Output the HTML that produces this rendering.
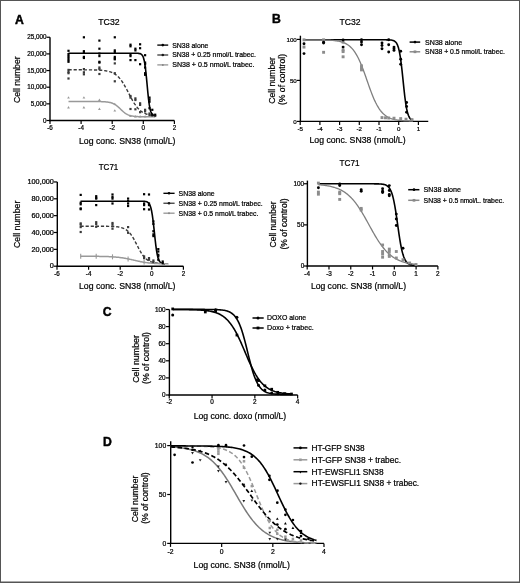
<!DOCTYPE html>
<html><head><meta charset="utf-8"><style>
html,body{margin:0;padding:0;background:#fff;}
body{width:520px;height:583px;overflow:hidden;}
svg{display:block;}
</style></head><body>
<svg width="520" height="583" viewBox="0 0 520 583" font-family='"Liberation Sans", Arial, Helvetica, sans-serif'>
<rect x="0" y="0" width="520" height="583" fill="#fff"/>
<line x1="49.30" y1="120.50" x2="174.40" y2="120.50" stroke="#000" stroke-width="1.4"/>
<line x1="50.00" y1="121.20" x2="50.00" y2="37.25" stroke="#000" stroke-width="1.4"/>
<line x1="50.00" y1="120.50" x2="50.00" y2="124.00" stroke="#000" stroke-width="1.2"/>
<text x="50.00" y="129.60" font-size="6.3" text-anchor="middle" fill="#000" stroke="#000" stroke-width="0.22">-6</text>
<line x1="81.10" y1="120.50" x2="81.10" y2="124.00" stroke="#000" stroke-width="1.2"/>
<text x="81.10" y="129.60" font-size="6.3" text-anchor="middle" fill="#000" stroke="#000" stroke-width="0.22">-4</text>
<line x1="112.20" y1="120.50" x2="112.20" y2="124.00" stroke="#000" stroke-width="1.2"/>
<text x="112.20" y="129.60" font-size="6.3" text-anchor="middle" fill="#000" stroke="#000" stroke-width="0.22">-2</text>
<line x1="143.30" y1="120.50" x2="143.30" y2="124.00" stroke="#000" stroke-width="1.2"/>
<text x="143.30" y="129.60" font-size="6.3" text-anchor="middle" fill="#000" stroke="#000" stroke-width="0.22">0</text>
<line x1="174.40" y1="120.50" x2="174.40" y2="124.00" stroke="#000" stroke-width="1.2"/>
<text x="174.40" y="129.60" font-size="6.3" text-anchor="middle" fill="#000" stroke="#000" stroke-width="0.22">2</text>
<line x1="50.00" y1="120.50" x2="46.50" y2="120.50" stroke="#000" stroke-width="1.2"/>
<text x="46.40" y="122.70" font-size="6.3" text-anchor="end" fill="#000" stroke="#000" stroke-width="0.22">0</text>
<line x1="50.00" y1="103.85" x2="46.50" y2="103.85" stroke="#000" stroke-width="1.2"/>
<text x="46.40" y="106.05" font-size="6.3" text-anchor="end" fill="#000" stroke="#000" stroke-width="0.22">5,000</text>
<line x1="50.00" y1="87.20" x2="46.50" y2="87.20" stroke="#000" stroke-width="1.2"/>
<text x="46.40" y="89.40" font-size="6.3" text-anchor="end" fill="#000" stroke="#000" stroke-width="0.22">10,000</text>
<line x1="50.00" y1="70.55" x2="46.50" y2="70.55" stroke="#000" stroke-width="1.2"/>
<text x="46.40" y="72.75" font-size="6.3" text-anchor="end" fill="#000" stroke="#000" stroke-width="0.22">15,000</text>
<line x1="50.00" y1="53.90" x2="46.50" y2="53.90" stroke="#000" stroke-width="1.2"/>
<text x="46.40" y="56.10" font-size="6.3" text-anchor="end" fill="#000" stroke="#000" stroke-width="0.22">20,000</text>
<line x1="50.00" y1="37.25" x2="46.50" y2="37.25" stroke="#000" stroke-width="1.2"/>
<text x="46.40" y="39.45" font-size="6.3" text-anchor="end" fill="#000" stroke="#000" stroke-width="0.22">25,000</text>
<text x="15.00" y="23.50" font-size="12.2" font-weight="bold" fill="#000" stroke="#000" stroke-width="0.45">A</text>
<text x="98.30" y="24.60" font-size="9" textLength="21.30" lengthAdjust="spacingAndGlyphs" fill="#000" stroke="#000" stroke-width="0.22">TC32</text>
<text x="20.10" y="79.70" font-size="8.6" text-anchor="middle" textLength="46.60" lengthAdjust="spacingAndGlyphs" transform="rotate(-90 20.10 79.70)" fill="#000" stroke="#000" stroke-width="0.22">Cell number</text>
<text x="79.00" y="144.30" font-size="8.7" textLength="96.40" lengthAdjust="spacingAndGlyphs" fill="#000" stroke="#000" stroke-width="0.22">Log conc. SN38 (nmol/L)</text>
<polyline points="68.50,53.20 69.22,53.20 69.94,53.20 70.66,53.20 71.38,53.20 72.10,53.20 72.83,53.20 73.55,53.20 74.27,53.20 74.99,53.20 75.71,53.20 76.43,53.20 77.15,53.20 77.87,53.20 78.59,53.20 79.31,53.20 80.03,53.20 80.75,53.20 81.47,53.20 82.20,53.20 82.92,53.20 83.64,53.20 84.36,53.20 85.08,53.20 85.80,53.20 86.52,53.20 87.24,53.20 87.96,53.20 88.68,53.20 89.40,53.20 90.12,53.20 90.85,53.20 91.57,53.20 92.29,53.20 93.01,53.20 93.73,53.20 94.45,53.20 95.17,53.20 95.89,53.20 96.61,53.20 97.33,53.20 98.05,53.20 98.78,53.20 99.50,53.20 100.22,53.20 100.94,53.20 101.66,53.20 102.38,53.20 103.10,53.20 103.82,53.20 104.54,53.20 105.26,53.20 105.98,53.20 106.70,53.20 107.42,53.20 108.15,53.20 108.87,53.20 109.59,53.20 110.31,53.20 111.03,53.20 111.75,53.20 112.47,53.20 113.19,53.20 113.91,53.20 114.63,53.20 115.35,53.20 116.08,53.20 116.80,53.20 117.52,53.20 118.24,53.20 118.96,53.20 119.68,53.20 120.40,53.20 121.12,53.20 121.84,53.20 122.56,53.20 123.28,53.20 124.00,53.20 124.72,53.20 125.45,53.20 126.17,53.20 126.89,53.20 127.61,53.20 128.33,53.20 129.05,53.20 129.77,53.20 130.49,53.20 131.21,53.20 131.93,53.20 132.65,53.20 133.38,53.20 134.10,53.21 134.82,53.21 135.54,53.22 136.26,53.23 136.98,53.25 137.70,53.29 138.42,53.34 139.14,53.44 139.86,53.60 140.58,53.85 141.30,54.27 142.03,54.96 142.75,56.05 143.47,57.79 144.19,60.45 144.91,64.35 145.63,69.74 146.35,76.55 147.07,84.28 147.79,92.05 148.51,98.96 149.23,104.47 149.95,108.49 150.68,111.24 151.40,113.03 152.12,114.17 152.84,114.88 153.56,115.32 154.28,115.59 155.00,115.75" fill="none" stroke="#000" stroke-width="1.6" stroke-linejoin="round"/>
<polyline points="68.50,69.80 69.22,69.80 69.94,69.80 70.66,69.80 71.38,69.80 72.10,69.80 72.83,69.80 73.55,69.80 74.27,69.81 74.99,69.81 75.71,69.81 76.43,69.81 77.15,69.81 77.87,69.81 78.59,69.81 79.31,69.81 80.03,69.81 80.75,69.82 81.47,69.82 82.20,69.82 82.92,69.82 83.64,69.83 84.36,69.83 85.08,69.83 85.80,69.84 86.52,69.84 87.24,69.85 87.96,69.85 88.68,69.86 89.40,69.87 90.12,69.88 90.85,69.89 91.57,69.90 92.29,69.91 93.01,69.92 93.73,69.94 94.45,69.96 95.17,69.98 95.89,70.00 96.61,70.02 97.33,70.05 98.05,70.08 98.78,70.12 99.50,70.16 100.22,70.21 100.94,70.26 101.66,70.32 102.38,70.38 103.10,70.45 103.82,70.54 104.54,70.63 105.26,70.73 105.98,70.85 106.70,70.98 107.42,71.12 108.15,71.29 108.87,71.47 109.59,71.68 110.31,71.91 111.03,72.16 111.75,72.44 112.47,72.76 113.19,73.11 113.91,73.50 114.63,73.93 115.35,74.41 116.08,74.93 116.80,75.50 117.52,76.13 118.24,76.82 118.96,77.57 119.68,78.37 120.40,79.25 121.12,80.18 121.84,81.18 122.56,82.25 123.28,83.37 124.00,84.56 124.72,85.79 125.45,87.08 126.17,88.40 126.89,89.75 127.61,91.13 128.33,92.53 129.05,93.92 129.77,95.31 130.49,96.69 131.21,98.03 131.93,99.35 132.65,100.62 133.38,101.84 134.10,103.01 134.82,104.12 135.54,105.17 136.26,106.16 136.98,107.08 137.70,107.93 138.42,108.73 139.14,109.46 139.86,110.13 140.58,110.74 141.30,111.30 142.03,111.82 142.75,112.28 143.47,112.70 144.19,113.08 144.91,113.42 145.63,113.73 146.35,114.01 147.07,114.25 147.79,114.48 148.51,114.68 149.23,114.85 149.95,115.01 150.68,115.16 151.40,115.28 152.12,115.39 152.84,115.50 153.56,115.59 154.28,115.67 155.00,115.74" fill="none" stroke="#3a3a3a" stroke-width="1.4" stroke-linejoin="round" stroke-dasharray="3.2,1.9"/>
<polyline points="68.50,101.50 69.22,101.50 69.94,101.50 70.66,101.50 71.38,101.50 72.10,101.50 72.83,101.50 73.55,101.50 74.27,101.50 74.99,101.50 75.71,101.50 76.43,101.50 77.15,101.50 77.87,101.50 78.59,101.50 79.31,101.50 80.03,101.50 80.75,101.50 81.47,101.50 82.20,101.50 82.92,101.50 83.64,101.50 84.36,101.50 85.08,101.50 85.80,101.50 86.52,101.50 87.24,101.50 87.96,101.50 88.68,101.50 89.40,101.51 90.12,101.51 90.85,101.51 91.57,101.51 92.29,101.51 93.01,101.51 93.73,101.52 94.45,101.52 95.17,101.53 95.89,101.53 96.61,101.54 97.33,101.54 98.05,101.55 98.78,101.56 99.50,101.58 100.22,101.59 100.94,101.61 101.66,101.63 102.38,101.66 103.10,101.69 103.82,101.72 104.54,101.77 105.26,101.82 105.98,101.88 106.70,101.95 107.42,102.04 108.15,102.14 108.87,102.27 109.59,102.41 110.31,102.58 111.03,102.77 111.75,103.00 112.47,103.27 113.19,103.57 113.91,103.92 114.63,104.31 115.35,104.75 116.08,105.24 116.80,105.78 117.52,106.36 118.24,106.98 118.96,107.64 119.68,108.31 120.40,109.01 121.12,109.70 121.84,110.38 122.56,111.05 123.28,111.68 124.00,112.28 124.72,112.84 125.45,113.35 126.17,113.81 126.89,114.22 127.61,114.59 128.33,114.91 129.05,115.19 129.77,115.43 130.49,115.64 131.21,115.82 131.93,115.98 132.65,116.11 133.38,116.22 134.10,116.31 134.82,116.39 135.54,116.46 136.26,116.51 136.98,116.56 137.70,116.60 138.42,116.63 139.14,116.66 139.86,116.68 140.58,116.70 141.30,116.72 142.03,116.73 142.75,116.74 143.47,116.75 144.19,116.76 144.91,116.77 145.63,116.77 146.35,116.78 147.07,116.78 147.79,116.78 148.51,116.79 149.23,116.79 149.95,116.79 150.68,116.79 151.40,116.79 152.12,116.79 152.84,116.80 153.56,116.80 154.28,116.80 155.00,116.80" fill="none" stroke="#999" stroke-width="1.5" stroke-linejoin="round"/>
<polygon points="67.10,98.58 69.90,98.58 68.50,96.20" fill="#9a9a9a"/>
<polygon points="67.10,108.38 69.90,108.38 68.50,106.00" fill="#9a9a9a"/>
<polygon points="82.50,98.58 85.30,98.58 83.90,96.20" fill="#9a9a9a"/>
<polygon points="82.50,108.38 85.30,108.38 83.90,106.00" fill="#9a9a9a"/>
<polygon points="98.00,100.98 100.80,100.98 99.40,98.60" fill="#9a9a9a"/>
<polygon points="98.00,109.98 100.80,109.98 99.40,107.60" fill="#9a9a9a"/>
<polygon points="113.40,105.08 116.20,105.08 114.80,102.70" fill="#9a9a9a"/>
<polygon points="113.40,111.58 116.20,111.58 114.80,109.20" fill="#9a9a9a"/>
<polygon points="129.10,116.98 131.90,116.98 130.50,114.60" fill="#9a9a9a"/>
<polygon points="134.00,117.48 136.80,117.48 135.40,115.10" fill="#9a9a9a"/>
<polygon points="138.70,117.48 141.50,117.48 140.10,115.10" fill="#9a9a9a"/>
<polygon points="143.70,117.48 146.50,117.48 145.10,115.10" fill="#9a9a9a"/>
<rect x="67.40" y="68.80" width="2.20" height="2.20" fill="#3a3a3a"/>
<rect x="67.40" y="70.90" width="2.20" height="2.20" fill="#3a3a3a"/>
<rect x="67.40" y="72.10" width="2.20" height="2.20" fill="#3a3a3a"/>
<rect x="67.40" y="77.40" width="2.20" height="2.20" fill="#3a3a3a"/>
<rect x="82.80" y="68.00" width="2.20" height="2.20" fill="#3a3a3a"/>
<rect x="82.80" y="71.20" width="2.20" height="2.20" fill="#3a3a3a"/>
<rect x="82.80" y="73.20" width="2.20" height="2.20" fill="#3a3a3a"/>
<rect x="98.30" y="66.40" width="2.20" height="2.20" fill="#3a3a3a"/>
<rect x="98.30" y="68.00" width="2.20" height="2.20" fill="#3a3a3a"/>
<rect x="98.30" y="72.90" width="2.20" height="2.20" fill="#3a3a3a"/>
<rect x="113.70" y="62.30" width="2.20" height="2.20" fill="#3a3a3a"/>
<rect x="113.70" y="72.10" width="2.20" height="2.20" fill="#3a3a3a"/>
<rect x="113.70" y="80.20" width="2.20" height="2.20" fill="#3a3a3a"/>
<rect x="129.40" y="94.90" width="2.20" height="2.20" fill="#3a3a3a"/>
<rect x="129.40" y="96.50" width="2.20" height="2.20" fill="#3a3a3a"/>
<rect x="129.40" y="107.90" width="2.20" height="2.20" fill="#3a3a3a"/>
<rect x="134.30" y="97.30" width="2.20" height="2.20" fill="#3a3a3a"/>
<rect x="134.30" y="98.90" width="2.20" height="2.20" fill="#3a3a3a"/>
<rect x="134.30" y="108.20" width="2.20" height="2.20" fill="#3a3a3a"/>
<rect x="139.00" y="102.20" width="2.20" height="2.20" fill="#3a3a3a"/>
<rect x="139.00" y="103.80" width="2.20" height="2.20" fill="#3a3a3a"/>
<rect x="139.00" y="111.10" width="2.20" height="2.20" fill="#3a3a3a"/>
<rect x="144.00" y="108.70" width="2.20" height="2.20" fill="#3a3a3a"/>
<rect x="144.00" y="110.30" width="2.20" height="2.20" fill="#3a3a3a"/>
<rect x="148.40" y="112.40" width="2.20" height="2.20" fill="#3a3a3a"/>
<rect x="148.40" y="113.90" width="2.20" height="2.20" fill="#3a3a3a"/>
<rect x="151.20" y="114.40" width="2.20" height="2.20" fill="#3a3a3a"/>
<rect x="154.10" y="114.90" width="2.20" height="2.20" fill="#3a3a3a"/>
<rect x="67.40" y="49.70" width="2.20" height="2.20" fill="#000"/>
<rect x="67.40" y="53.00" width="2.20" height="2.20" fill="#000"/>
<rect x="67.40" y="55.00" width="2.20" height="2.20" fill="#000"/>
<rect x="67.40" y="56.90" width="2.20" height="2.20" fill="#000"/>
<rect x="67.40" y="59.00" width="2.20" height="2.20" fill="#000"/>
<rect x="67.40" y="60.70" width="2.20" height="2.20" fill="#000"/>
<rect x="82.80" y="36.20" width="2.20" height="2.20" fill="#000"/>
<rect x="82.80" y="50.10" width="2.20" height="2.20" fill="#000"/>
<rect x="82.80" y="51.70" width="2.20" height="2.20" fill="#000"/>
<rect x="82.80" y="55.80" width="2.20" height="2.20" fill="#000"/>
<rect x="82.80" y="56.90" width="2.20" height="2.20" fill="#000"/>
<rect x="98.30" y="39.50" width="2.20" height="2.20" fill="#000"/>
<rect x="98.30" y="47.60" width="2.20" height="2.20" fill="#000"/>
<rect x="98.30" y="52.50" width="2.20" height="2.20" fill="#000"/>
<rect x="98.30" y="55.00" width="2.20" height="2.20" fill="#000"/>
<rect x="98.30" y="60.70" width="2.20" height="2.20" fill="#000"/>
<rect x="98.30" y="61.50" width="2.20" height="2.20" fill="#000"/>
<rect x="113.70" y="36.20" width="2.20" height="2.20" fill="#000"/>
<rect x="113.70" y="49.30" width="2.20" height="2.20" fill="#000"/>
<rect x="113.70" y="50.90" width="2.20" height="2.20" fill="#000"/>
<rect x="113.70" y="55.80" width="2.20" height="2.20" fill="#000"/>
<rect x="113.70" y="57.40" width="2.20" height="2.20" fill="#000"/>
<rect x="113.70" y="58.20" width="2.20" height="2.20" fill="#000"/>
<rect x="129.40" y="43.60" width="2.20" height="2.20" fill="#000"/>
<rect x="129.40" y="45.20" width="2.20" height="2.20" fill="#000"/>
<rect x="129.40" y="53.30" width="2.20" height="2.20" fill="#000"/>
<rect x="129.40" y="55.00" width="2.20" height="2.20" fill="#000"/>
<rect x="129.40" y="59.00" width="2.20" height="2.20" fill="#000"/>
<rect x="134.30" y="47.60" width="2.20" height="2.20" fill="#000"/>
<rect x="134.30" y="49.30" width="2.20" height="2.20" fill="#000"/>
<rect x="134.30" y="59.00" width="2.20" height="2.20" fill="#000"/>
<rect x="139.00" y="43.20" width="2.20" height="2.20" fill="#000"/>
<rect x="139.00" y="47.10" width="2.20" height="2.20" fill="#000"/>
<rect x="139.00" y="63.10" width="2.20" height="2.20" fill="#000"/>
<rect x="144.00" y="54.10" width="2.20" height="2.20" fill="#000"/>
<rect x="144.00" y="61.50" width="2.20" height="2.20" fill="#000"/>
<rect x="144.00" y="63.10" width="2.20" height="2.20" fill="#000"/>
<rect x="144.00" y="66.40" width="2.20" height="2.20" fill="#000"/>
<rect x="144.00" y="72.10" width="2.20" height="2.20" fill="#000"/>
<rect x="144.00" y="73.70" width="2.20" height="2.20" fill="#000"/>
<rect x="148.40" y="96.50" width="2.20" height="2.20" fill="#000"/>
<rect x="148.40" y="98.50" width="2.20" height="2.20" fill="#000"/>
<rect x="148.40" y="100.60" width="2.20" height="2.20" fill="#000"/>
<rect x="148.40" y="107.10" width="2.20" height="2.20" fill="#000"/>
<rect x="151.20" y="108.70" width="2.20" height="2.20" fill="#000"/>
<rect x="151.20" y="113.60" width="2.20" height="2.20" fill="#000"/>
<rect x="154.10" y="113.60" width="2.20" height="2.20" fill="#000"/>
<line x1="157.30" y1="45.10" x2="168.20" y2="45.10" stroke="#000" stroke-width="1.35"/>
<circle cx="162.80" cy="45.10" r="1.30" fill="#000"/>
<text x="172.20" y="47.50" font-size="6.9" textLength="36.30" lengthAdjust="spacingAndGlyphs" fill="#000" stroke="#000" stroke-width="0.22">SN38 alone</text>
<line x1="157.30" y1="55.00" x2="168.20" y2="55.00" stroke="#444" stroke-width="1.35"/>
<circle cx="162.80" cy="55.00" r="1.30" fill="#1a1a1a"/>
<text x="172.20" y="57.40" font-size="6.9" textLength="83.80" lengthAdjust="spacingAndGlyphs" fill="#000" stroke="#000" stroke-width="0.22">SN38 + 0.25 nmol/L  trabec.</text>
<line x1="157.30" y1="64.90" x2="168.20" y2="64.90" stroke="#999" stroke-width="1.35"/>
<circle cx="162.80" cy="64.90" r="1.00" fill="#888"/>
<text x="172.20" y="67.30" font-size="6.9" textLength="82.20" lengthAdjust="spacingAndGlyphs" fill="#000" stroke="#000" stroke-width="0.22">SN38 + 0.5 nmol/L  trabec.</text>
<line x1="56.60" y1="266.20" x2="183.40" y2="266.20" stroke="#000" stroke-width="1.4"/>
<line x1="57.30" y1="266.90" x2="57.30" y2="181.95" stroke="#000" stroke-width="1.4"/>
<line x1="57.00" y1="266.20" x2="57.00" y2="269.70" stroke="#000" stroke-width="1.2"/>
<text x="57.00" y="276.10" font-size="6.3" text-anchor="middle" fill="#000" stroke="#000" stroke-width="0.22">-6</text>
<line x1="88.60" y1="266.20" x2="88.60" y2="269.70" stroke="#000" stroke-width="1.2"/>
<text x="88.60" y="276.10" font-size="6.3" text-anchor="middle" fill="#000" stroke="#000" stroke-width="0.22">-4</text>
<line x1="120.20" y1="266.20" x2="120.20" y2="269.70" stroke="#000" stroke-width="1.2"/>
<text x="120.20" y="276.10" font-size="6.3" text-anchor="middle" fill="#000" stroke="#000" stroke-width="0.22">-2</text>
<line x1="151.80" y1="266.20" x2="151.80" y2="269.70" stroke="#000" stroke-width="1.2"/>
<text x="151.80" y="276.10" font-size="6.3" text-anchor="middle" fill="#000" stroke="#000" stroke-width="0.22">0</text>
<line x1="183.40" y1="266.20" x2="183.40" y2="269.70" stroke="#000" stroke-width="1.2"/>
<text x="183.40" y="276.10" font-size="6.3" text-anchor="middle" fill="#000" stroke="#000" stroke-width="0.22">2</text>
<line x1="57.30" y1="266.20" x2="53.80" y2="266.20" stroke="#000" stroke-width="1.2"/>
<text x="53.80" y="268.40" font-size="6.5" text-anchor="end" textLength="4.05" lengthAdjust="spacingAndGlyphs" fill="#000" stroke="#000" stroke-width="0.22">0</text>
<line x1="57.30" y1="249.35" x2="53.80" y2="249.35" stroke="#000" stroke-width="1.2"/>
<text x="53.80" y="251.55" font-size="6.5" text-anchor="end" textLength="22.26" lengthAdjust="spacingAndGlyphs" fill="#000" stroke="#000" stroke-width="0.22">20,000</text>
<line x1="57.30" y1="232.50" x2="53.80" y2="232.50" stroke="#000" stroke-width="1.2"/>
<text x="53.80" y="234.70" font-size="6.5" text-anchor="end" textLength="22.26" lengthAdjust="spacingAndGlyphs" fill="#000" stroke="#000" stroke-width="0.22">40,000</text>
<line x1="57.30" y1="215.65" x2="53.80" y2="215.65" stroke="#000" stroke-width="1.2"/>
<text x="53.80" y="217.85" font-size="6.5" text-anchor="end" textLength="22.26" lengthAdjust="spacingAndGlyphs" fill="#000" stroke="#000" stroke-width="0.22">60,000</text>
<line x1="57.30" y1="198.80" x2="53.80" y2="198.80" stroke="#000" stroke-width="1.2"/>
<text x="53.80" y="201.00" font-size="6.5" text-anchor="end" textLength="22.26" lengthAdjust="spacingAndGlyphs" fill="#000" stroke="#000" stroke-width="0.22">80,000</text>
<line x1="57.30" y1="181.95" x2="53.80" y2="181.95" stroke="#000" stroke-width="1.2"/>
<text x="53.80" y="184.15" font-size="6.5" text-anchor="end" textLength="26.31" lengthAdjust="spacingAndGlyphs" fill="#000" stroke="#000" stroke-width="0.22">100,000</text>
<text x="98.75" y="170.30" font-size="9" textLength="19.50" lengthAdjust="spacingAndGlyphs" fill="#000" stroke="#000" stroke-width="0.22">TC71</text>
<text x="20.10" y="224.30" font-size="8.6" text-anchor="middle" textLength="47.40" lengthAdjust="spacingAndGlyphs" transform="rotate(-90 20.10 224.30)" fill="#000" stroke="#000" stroke-width="0.22">Cell number</text>
<text x="79.00" y="289.00" font-size="8.7" textLength="96.40" lengthAdjust="spacingAndGlyphs" fill="#000" stroke="#000" stroke-width="0.22">Log conc. SN38 (nmol/L)</text>
<polyline points="80.50,201.20 81.20,201.20 81.91,201.20 82.61,201.20 83.32,201.20 84.02,201.20 84.72,201.20 85.43,201.20 86.13,201.20 86.84,201.20 87.54,201.20 88.25,201.20 88.95,201.20 89.65,201.20 90.36,201.20 91.06,201.20 91.77,201.20 92.47,201.20 93.17,201.20 93.88,201.20 94.58,201.20 95.29,201.20 95.99,201.20 96.70,201.20 97.40,201.20 98.10,201.20 98.81,201.20 99.51,201.20 100.22,201.20 100.92,201.20 101.62,201.20 102.33,201.20 103.03,201.20 103.74,201.20 104.44,201.20 105.15,201.20 105.85,201.20 106.55,201.20 107.26,201.20 107.96,201.20 108.67,201.20 109.37,201.20 110.08,201.20 110.78,201.20 111.48,201.20 112.19,201.20 112.89,201.20 113.60,201.20 114.30,201.20 115.00,201.20 115.71,201.20 116.41,201.20 117.12,201.20 117.82,201.20 118.53,201.20 119.23,201.20 119.93,201.20 120.64,201.20 121.34,201.20 122.05,201.20 122.75,201.20 123.45,201.20 124.16,201.20 124.86,201.20 125.57,201.20 126.27,201.20 126.97,201.20 127.68,201.20 128.38,201.20 129.09,201.20 129.79,201.20 130.50,201.20 131.20,201.20 131.90,201.20 132.61,201.20 133.31,201.20 134.02,201.20 134.72,201.20 135.43,201.20 136.13,201.20 136.83,201.20 137.54,201.20 138.24,201.20 138.95,201.21 139.65,201.21 140.35,201.21 141.06,201.22 141.76,201.23 142.47,201.25 143.17,201.27 143.88,201.31 144.58,201.36 145.28,201.45 145.99,201.58 146.69,201.78 147.40,202.09 148.10,202.55 148.80,203.25 149.51,204.28 150.21,205.80 150.92,207.98 151.62,211.03 152.32,215.10 153.03,220.26 153.73,226.34 154.44,232.96 155.14,239.54 155.85,245.54 156.55,250.58 157.25,254.54 157.96,257.49 158.66,259.59 159.37,261.05 160.07,262.04 160.78,262.71 161.48,263.15 162.18,263.44 162.89,263.64 163.59,263.76 164.30,263.84 165.00,263.90" fill="none" stroke="#000" stroke-width="1.6" stroke-linejoin="round"/>
<polyline points="80.50,226.25 81.20,226.25 81.91,226.25 82.61,226.25 83.32,226.25 84.02,226.25 84.72,226.25 85.43,226.25 86.13,226.25 86.84,226.25 87.54,226.25 88.25,226.25 88.95,226.25 89.65,226.25 90.36,226.25 91.06,226.25 91.77,226.25 92.47,226.25 93.17,226.25 93.88,226.25 94.58,226.26 95.29,226.26 95.99,226.26 96.70,226.26 97.40,226.26 98.10,226.26 98.81,226.26 99.51,226.26 100.22,226.27 100.92,226.27 101.62,226.27 102.33,226.28 103.03,226.28 103.74,226.28 104.44,226.29 105.15,226.30 105.85,226.30 106.55,226.31 107.26,226.32 107.96,226.33 108.67,226.35 109.37,226.36 110.08,226.38 110.78,226.40 111.48,226.43 112.19,226.45 112.89,226.49 113.60,226.52 114.30,226.57 115.00,226.62 115.71,226.68 116.41,226.74 117.12,226.82 117.82,226.91 118.53,227.01 119.23,227.13 119.93,227.27 120.64,227.43 121.34,227.61 122.05,227.82 122.75,228.06 123.45,228.33 124.16,228.64 124.86,229.00 125.57,229.40 126.27,229.85 126.97,230.36 127.68,230.94 128.38,231.58 129.09,232.29 129.79,233.08 130.50,233.95 131.20,234.90 131.90,235.92 132.61,237.02 133.31,238.19 134.02,239.42 134.72,240.71 135.43,242.05 136.13,243.41 136.83,244.79 137.54,246.18 138.24,247.55 138.95,248.89 139.65,250.18 140.35,251.43 141.06,252.61 141.76,253.73 142.47,254.77 143.17,255.73 143.88,256.61 144.58,257.41 145.28,258.14 145.99,258.80 146.69,259.38 147.40,259.91 148.10,260.37 148.80,260.78 149.51,261.15 150.21,261.46 150.92,261.74 151.62,261.99 152.32,262.20 153.03,262.39 153.73,262.55 154.44,262.69 155.14,262.81 155.85,262.92 156.55,263.01 157.25,263.09 157.96,263.16 158.66,263.22 159.37,263.27 160.07,263.32 160.78,263.36 161.48,263.39 162.18,263.42 162.89,263.44 163.59,263.47 164.30,263.48 165.00,263.50" fill="none" stroke="#3a3a3a" stroke-width="1.4" stroke-linejoin="round" stroke-dasharray="3.2,1.9"/>
<polyline points="80.50,256.26 81.23,256.27 81.97,256.27 82.70,256.27 83.43,256.27 84.17,256.27 84.90,256.27 85.63,256.28 86.37,256.28 87.10,256.28 87.83,256.28 88.57,256.29 89.30,256.29 90.03,256.29 90.77,256.30 91.50,256.30 92.23,256.31 92.97,256.31 93.70,256.32 94.43,256.32 95.17,256.33 95.90,256.34 96.63,256.34 97.37,256.35 98.10,256.36 98.83,256.37 99.57,256.38 100.30,256.39 101.03,256.41 101.77,256.42 102.50,256.44 103.23,256.45 103.97,256.47 104.70,256.49 105.43,256.51 106.17,256.53 106.90,256.56 107.63,256.59 108.37,256.62 109.10,256.65 109.83,256.68 110.57,256.72 111.30,256.76 112.03,256.80 112.77,256.85 113.50,256.90 114.23,256.95 114.97,257.01 115.70,257.07 116.43,257.14 117.17,257.21 117.90,257.29 118.63,257.37 119.37,257.45 120.10,257.54 120.83,257.64 121.57,257.74 122.30,257.85 123.03,257.97 123.77,258.08 124.50,258.21 125.23,258.34 125.97,258.48 126.70,258.62 127.43,258.76 128.17,258.91 128.90,259.07 129.63,259.23 130.37,259.39 131.10,259.55 131.83,259.72 132.57,259.89 133.30,260.06 134.03,260.22 134.77,260.39 135.50,260.56 136.23,260.73 136.97,260.89 137.70,261.05 138.43,261.21 139.17,261.36 139.90,261.51 140.63,261.66 141.37,261.80 142.10,261.93 142.83,262.06 143.57,262.19 144.30,262.31 145.03,262.42 145.77,262.53 146.50,262.63 147.23,262.72 147.97,262.81 148.70,262.90 149.43,262.98 150.17,263.05 150.90,263.12 151.63,263.19 152.37,263.25 153.10,263.31 153.83,263.36 154.57,263.41 155.30,263.46 156.03,263.50 156.77,263.54 157.50,263.57 158.23,263.61 158.97,263.64 159.70,263.67 160.43,263.69 161.17,263.72 161.90,263.74 162.63,263.76 163.37,263.78 164.10,263.80 164.83,263.82 165.57,263.83 166.30,263.85 167.03,263.86 167.77,263.87 168.50,263.88" fill="none" stroke="#999" stroke-width="1.5" stroke-linejoin="round"/>
<line x1="80.70" y1="253.76" x2="80.70" y2="258.76" stroke="#999" stroke-width="1.1"/>
<line x1="96.20" y1="253.83" x2="96.20" y2="258.83" stroke="#999" stroke-width="1.1"/>
<line x1="112.50" y1="254.33" x2="112.50" y2="259.33" stroke="#999" stroke-width="1.1"/>
<line x1="128.10" y1="256.40" x2="128.10" y2="261.40" stroke="#999" stroke-width="1.1"/>
<line x1="144.10" y1="259.57" x2="144.10" y2="264.57" stroke="#999" stroke-width="1.1"/>
<rect x="79.60" y="222.30" width="2.20" height="2.20" fill="#3a3a3a"/>
<rect x="79.60" y="223.60" width="2.20" height="2.20" fill="#3a3a3a"/>
<rect x="79.60" y="226.00" width="2.20" height="2.20" fill="#3a3a3a"/>
<rect x="79.60" y="230.90" width="2.20" height="2.20" fill="#3a3a3a"/>
<rect x="95.10" y="221.10" width="2.20" height="2.20" fill="#3a3a3a"/>
<rect x="95.10" y="222.80" width="2.20" height="2.20" fill="#3a3a3a"/>
<rect x="95.10" y="225.70" width="2.20" height="2.20" fill="#3a3a3a"/>
<rect x="111.40" y="221.90" width="2.20" height="2.20" fill="#3a3a3a"/>
<rect x="111.40" y="223.60" width="2.20" height="2.20" fill="#3a3a3a"/>
<rect x="111.40" y="227.60" width="2.20" height="2.20" fill="#3a3a3a"/>
<rect x="127.00" y="226.00" width="2.20" height="2.20" fill="#3a3a3a"/>
<rect x="127.00" y="231.70" width="2.20" height="2.20" fill="#3a3a3a"/>
<rect x="143.00" y="255.30" width="2.20" height="2.20" fill="#3a3a3a"/>
<rect x="143.00" y="257.00" width="2.20" height="2.20" fill="#3a3a3a"/>
<rect x="147.90" y="257.00" width="2.20" height="2.20" fill="#3a3a3a"/>
<rect x="147.90" y="258.60" width="2.20" height="2.20" fill="#3a3a3a"/>
<rect x="152.30" y="259.40" width="2.20" height="2.20" fill="#3a3a3a"/>
<rect x="152.30" y="261.00" width="2.20" height="2.20" fill="#3a3a3a"/>
<rect x="79.60" y="193.80" width="2.20" height="2.20" fill="#000"/>
<rect x="79.60" y="201.60" width="2.20" height="2.20" fill="#000"/>
<rect x="79.60" y="203.20" width="2.20" height="2.20" fill="#000"/>
<rect x="79.60" y="207.30" width="2.20" height="2.20" fill="#000"/>
<rect x="79.60" y="208.10" width="2.20" height="2.20" fill="#000"/>
<rect x="95.10" y="195.10" width="2.20" height="2.20" fill="#000"/>
<rect x="95.10" y="196.70" width="2.20" height="2.20" fill="#000"/>
<rect x="95.10" y="197.50" width="2.20" height="2.20" fill="#000"/>
<rect x="95.10" y="204.00" width="2.20" height="2.20" fill="#000"/>
<rect x="111.40" y="193.40" width="2.20" height="2.20" fill="#000"/>
<rect x="111.40" y="195.90" width="2.20" height="2.20" fill="#000"/>
<rect x="111.40" y="197.50" width="2.20" height="2.20" fill="#000"/>
<rect x="111.40" y="202.40" width="2.20" height="2.20" fill="#000"/>
<rect x="127.00" y="197.50" width="2.20" height="2.20" fill="#000"/>
<rect x="127.00" y="200.00" width="2.20" height="2.20" fill="#000"/>
<rect x="127.00" y="202.40" width="2.20" height="2.20" fill="#000"/>
<rect x="127.00" y="204.90" width="2.20" height="2.20" fill="#000"/>
<rect x="143.00" y="193.10" width="2.20" height="2.20" fill="#000"/>
<rect x="143.00" y="202.40" width="2.20" height="2.20" fill="#000"/>
<rect x="143.00" y="204.00" width="2.20" height="2.20" fill="#000"/>
<rect x="143.00" y="208.10" width="2.20" height="2.20" fill="#000"/>
<rect x="147.90" y="193.40" width="2.20" height="2.20" fill="#000"/>
<rect x="147.90" y="202.40" width="2.20" height="2.20" fill="#000"/>
<rect x="147.90" y="204.00" width="2.20" height="2.20" fill="#000"/>
<rect x="147.90" y="208.40" width="2.20" height="2.20" fill="#000"/>
<rect x="152.30" y="220.30" width="2.20" height="2.20" fill="#000"/>
<rect x="152.30" y="222.80" width="2.20" height="2.20" fill="#000"/>
<rect x="152.30" y="230.10" width="2.20" height="2.20" fill="#000"/>
<rect x="152.30" y="233.30" width="2.20" height="2.20" fill="#000"/>
<rect x="152.30" y="235.00" width="2.20" height="2.20" fill="#000"/>
<rect x="157.20" y="248.00" width="2.20" height="2.20" fill="#000"/>
<rect x="157.20" y="250.40" width="2.20" height="2.20" fill="#000"/>
<rect x="157.20" y="253.70" width="2.20" height="2.20" fill="#000"/>
<rect x="157.20" y="255.30" width="2.20" height="2.20" fill="#000"/>
<rect x="157.20" y="258.60" width="2.20" height="2.20" fill="#000"/>
<rect x="161.60" y="260.40" width="2.20" height="2.20" fill="#000"/>
<rect x="161.60" y="261.90" width="2.20" height="2.20" fill="#000"/>
<line x1="163.40" y1="193.30" x2="174.60" y2="193.30" stroke="#000" stroke-width="1.35"/>
<circle cx="169.00" cy="193.30" r="1.30" fill="#000"/>
<text x="178.60" y="195.70" font-size="6.9" textLength="36.00" lengthAdjust="spacingAndGlyphs" fill="#000" stroke="#000" stroke-width="0.22">SN38 alone</text>
<line x1="163.40" y1="203.25" x2="174.60" y2="203.25" stroke="#444" stroke-width="1.35"/>
<circle cx="169.00" cy="203.25" r="1.30" fill="#1a1a1a"/>
<text x="178.60" y="205.65" font-size="6.9" textLength="84.00" lengthAdjust="spacingAndGlyphs" fill="#000" stroke="#000" stroke-width="0.22">SN38 + 0.25 nmol/L  trabec.</text>
<line x1="163.40" y1="213.20" x2="174.60" y2="213.20" stroke="#999" stroke-width="1.35"/>
<circle cx="169.00" cy="213.20" r="1.00" fill="#888"/>
<text x="178.60" y="215.60" font-size="6.9" textLength="79.80" lengthAdjust="spacingAndGlyphs" fill="#000" stroke="#000" stroke-width="0.22">SN38 + 0.5 nmol/L  trabec.</text>
<line x1="299.70" y1="121.40" x2="428.25" y2="121.40" stroke="#000" stroke-width="1.4"/>
<line x1="300.40" y1="122.10" x2="300.40" y2="35.70" stroke="#000" stroke-width="1.4"/>
<line x1="300.20" y1="121.40" x2="300.20" y2="124.90" stroke="#000" stroke-width="1.2"/>
<text x="300.20" y="131.10" font-size="6.2" text-anchor="middle" fill="#000" stroke="#000" stroke-width="0.22">-5</text>
<line x1="319.90" y1="121.40" x2="319.90" y2="124.90" stroke="#000" stroke-width="1.2"/>
<text x="319.90" y="131.10" font-size="6.2" text-anchor="middle" fill="#000" stroke="#000" stroke-width="0.22">-4</text>
<line x1="339.60" y1="121.40" x2="339.60" y2="124.90" stroke="#000" stroke-width="1.2"/>
<text x="339.60" y="131.10" font-size="6.2" text-anchor="middle" fill="#000" stroke="#000" stroke-width="0.22">-3</text>
<line x1="359.30" y1="121.40" x2="359.30" y2="124.90" stroke="#000" stroke-width="1.2"/>
<text x="359.30" y="131.10" font-size="6.2" text-anchor="middle" fill="#000" stroke="#000" stroke-width="0.22">-2</text>
<line x1="379.00" y1="121.40" x2="379.00" y2="124.90" stroke="#000" stroke-width="1.2"/>
<text x="379.00" y="131.10" font-size="6.2" text-anchor="middle" fill="#000" stroke="#000" stroke-width="0.22">-1</text>
<line x1="398.70" y1="121.40" x2="398.70" y2="124.90" stroke="#000" stroke-width="1.2"/>
<text x="398.70" y="131.10" font-size="6.2" text-anchor="middle" fill="#000" stroke="#000" stroke-width="0.22">0</text>
<line x1="418.40" y1="121.40" x2="418.40" y2="124.90" stroke="#000" stroke-width="1.2"/>
<text x="418.40" y="131.10" font-size="6.2" text-anchor="middle" fill="#000" stroke="#000" stroke-width="0.22">1</text>
<line x1="300.40" y1="121.40" x2="296.90" y2="121.40" stroke="#000" stroke-width="1.2"/>
<text x="296.80" y="123.60" font-size="6.2" text-anchor="end" fill="#000" stroke="#000" stroke-width="0.22">0</text>
<line x1="300.40" y1="80.40" x2="296.90" y2="80.40" stroke="#000" stroke-width="1.2"/>
<text x="296.80" y="82.60" font-size="6.2" text-anchor="end" fill="#000" stroke="#000" stroke-width="0.22">50</text>
<line x1="300.40" y1="39.40" x2="296.90" y2="39.40" stroke="#000" stroke-width="1.2"/>
<text x="296.80" y="41.60" font-size="6.2" text-anchor="end" fill="#000" stroke="#000" stroke-width="0.22">100</text>
<text x="272.00" y="23.30" font-size="12.2" font-weight="bold" fill="#000" stroke="#000" stroke-width="0.45">B</text>
<text x="339.50" y="24.60" font-size="9" textLength="21.00" lengthAdjust="spacingAndGlyphs" fill="#000" stroke="#000" stroke-width="0.22">TC32</text>
<text x="274.60" y="80.40" font-size="8.6" text-anchor="middle" textLength="46.80" lengthAdjust="spacingAndGlyphs" transform="rotate(-90 274.60 80.40)" fill="#000" stroke="#000" stroke-width="0.22">Cell number</text>
<text x="284.60" y="79.50" font-size="8.6" text-anchor="middle" textLength="51.00" lengthAdjust="spacingAndGlyphs" transform="rotate(-90 284.60 79.50)" fill="#000" stroke="#000" stroke-width="0.22">(% of control)</text>
<text x="309.50" y="143.40" font-size="8.7" textLength="96.10" lengthAdjust="spacingAndGlyphs" fill="#000" stroke="#000" stroke-width="0.22">Log conc. SN38 (nmol/L)</text>
<polyline points="304.00,39.80 304.91,39.80 305.82,39.80 306.73,39.80 307.63,39.80 308.54,39.80 309.45,39.80 310.36,39.80 311.27,39.80 312.18,39.80 313.08,39.80 313.99,39.80 314.90,39.80 315.81,39.80 316.72,39.80 317.62,39.80 318.53,39.80 319.44,39.80 320.35,39.80 321.26,39.80 322.17,39.80 323.07,39.80 323.98,39.80 324.89,39.80 325.80,39.80 326.71,39.80 327.62,39.80 328.52,39.80 329.43,39.80 330.34,39.80 331.25,39.80 332.16,39.80 333.07,39.80 333.98,39.80 334.88,39.80 335.79,39.80 336.70,39.80 337.61,39.80 338.52,39.80 339.43,39.80 340.33,39.80 341.24,39.80 342.15,39.80 343.06,39.80 343.97,39.80 344.88,39.80 345.78,39.80 346.69,39.80 347.60,39.80 348.51,39.80 349.42,39.80 350.32,39.80 351.23,39.80 352.14,39.80 353.05,39.80 353.96,39.80 354.87,39.80 355.77,39.80 356.68,39.80 357.59,39.80 358.50,39.80 359.41,39.80 360.32,39.80 361.23,39.80 362.13,39.80 363.04,39.80 363.95,39.80 364.86,39.80 365.77,39.80 366.68,39.80 367.58,39.80 368.49,39.80 369.40,39.80 370.31,39.80 371.22,39.80 372.12,39.80 373.03,39.80 373.94,39.80 374.85,39.80 375.76,39.80 376.67,39.80 377.57,39.80 378.48,39.80 379.39,39.80 380.30,39.80 381.21,39.80 382.12,39.80 383.02,39.81 383.93,39.81 384.84,39.81 385.75,39.82 386.66,39.83 387.57,39.85 388.48,39.87 389.38,39.91 390.29,39.97 391.20,40.07 392.11,40.22 393.02,40.44 393.93,40.79 394.83,41.32 395.74,42.13 396.65,43.35 397.56,45.17 398.47,47.82 399.38,51.58 400.28,56.69 401.19,63.28 402.10,71.18 403.01,79.90 403.92,88.67 404.82,96.72 405.73,103.50 406.64,108.81 407.55,112.74 408.46,115.52 409.37,117.44 410.27,118.73 411.18,119.59 412.09,120.15 413.00,120.52" fill="none" stroke="#000" stroke-width="1.6" stroke-linejoin="round"/>
<polyline points="304.00,39.81 304.91,39.81 305.82,39.81 306.73,39.82 307.63,39.82 308.54,39.82 309.45,39.82 310.36,39.83 311.27,39.83 312.18,39.84 313.08,39.84 313.99,39.85 314.90,39.85 315.81,39.86 316.72,39.87 317.62,39.88 318.53,39.89 319.44,39.90 320.35,39.91 321.26,39.93 322.17,39.94 323.07,39.96 323.98,39.99 324.89,40.01 325.80,40.04 326.71,40.07 327.62,40.11 328.52,40.15 329.43,40.20 330.34,40.25 331.25,40.32 332.16,40.39 333.07,40.46 333.98,40.55 334.88,40.66 335.79,40.77 336.70,40.90 337.61,41.05 338.52,41.22 339.43,41.41 340.33,41.63 341.24,41.87 342.15,42.15 343.06,42.46 343.97,42.81 344.88,43.20 345.78,43.65 346.69,44.15 347.60,44.70 348.51,45.33 349.42,46.03 350.32,46.81 351.23,47.67 352.14,48.64 353.05,49.70 353.96,50.87 354.87,52.15 355.77,53.56 356.68,55.09 357.59,56.75 358.50,58.53 359.41,60.45 360.32,62.48 361.23,64.64 362.13,66.91 363.04,69.28 363.95,71.73 364.86,74.25 365.77,76.82 366.68,79.42 367.58,82.03 368.49,84.63 369.40,87.19 370.31,89.70 371.22,92.14 372.12,94.49 373.03,96.74 373.94,98.88 374.85,100.90 375.76,102.79 376.67,104.55 377.57,106.19 378.48,107.69 379.39,109.08 380.30,110.34 381.21,111.49 382.12,112.54 383.02,113.48 383.93,114.33 384.84,115.10 385.75,115.78 386.66,116.40 387.57,116.95 388.48,117.43 389.38,117.87 390.29,118.26 391.20,118.60 392.11,118.90 393.02,119.17 393.93,119.41 394.83,119.62 395.74,119.81 396.65,119.97 397.56,120.12 398.47,120.25 399.38,120.36 400.28,120.46 401.19,120.55 402.10,120.63 403.01,120.70 403.92,120.76 404.82,120.81 405.73,120.86 406.64,120.90 407.55,120.93 408.46,120.97 409.37,120.99 410.27,121.02 411.18,121.04 412.09,121.06 413.00,121.08" fill="none" stroke="#7f7f7f" stroke-width="1.3" stroke-linejoin="round"/>
<rect x="302.55" y="38.35" width="2.90" height="2.90" fill="#8c8c8c"/>
<rect x="302.55" y="45.65" width="2.90" height="2.90" fill="#8c8c8c"/>
<rect x="322.15" y="38.35" width="2.90" height="2.90" fill="#8c8c8c"/>
<rect x="322.15" y="50.85" width="2.90" height="2.90" fill="#8c8c8c"/>
<rect x="341.65" y="40.75" width="2.90" height="2.90" fill="#8c8c8c"/>
<rect x="341.65" y="48.45" width="2.90" height="2.90" fill="#8c8c8c"/>
<rect x="341.65" y="50.15" width="2.90" height="2.90" fill="#8c8c8c"/>
<rect x="341.65" y="55.35" width="2.90" height="2.90" fill="#8c8c8c"/>
<rect x="360.05" y="64.35" width="2.90" height="2.90" fill="#8c8c8c"/>
<rect x="360.05" y="66.35" width="2.90" height="2.90" fill="#8c8c8c"/>
<rect x="360.05" y="68.45" width="2.90" height="2.90" fill="#8c8c8c"/>
<rect x="380.55" y="116.15" width="2.90" height="2.90" fill="#8c8c8c"/>
<rect x="384.05" y="116.35" width="2.90" height="2.90" fill="#8c8c8c"/>
<rect x="387.25" y="116.55" width="2.90" height="2.90" fill="#8c8c8c"/>
<rect x="392.55" y="116.75" width="2.90" height="2.90" fill="#8c8c8c"/>
<rect x="399.25" y="117.15" width="2.90" height="2.90" fill="#8c8c8c"/>
<rect x="404.55" y="117.75" width="2.90" height="2.90" fill="#8c8c8c"/>
<rect x="410.55" y="118.15" width="2.90" height="2.90" fill="#8c8c8c"/>
<circle cx="304.00" cy="43.80" r="1.45" fill="#000"/>
<circle cx="304.00" cy="53.60" r="1.45" fill="#000"/>
<circle cx="323.60" cy="42.20" r="1.45" fill="#000"/>
<circle cx="323.60" cy="43.00" r="1.45" fill="#000"/>
<circle cx="343.10" cy="47.10" r="1.45" fill="#000"/>
<circle cx="343.10" cy="40.00" r="1.45" fill="#000"/>
<circle cx="361.50" cy="39.80" r="1.45" fill="#000"/>
<circle cx="361.50" cy="42.00" r="1.45" fill="#000"/>
<circle cx="361.50" cy="44.70" r="1.45" fill="#000"/>
<circle cx="382.00" cy="43.00" r="1.45" fill="#000"/>
<circle cx="382.00" cy="45.50" r="1.45" fill="#000"/>
<circle cx="382.00" cy="48.70" r="1.45" fill="#000"/>
<circle cx="388.70" cy="39.80" r="1.45" fill="#000"/>
<circle cx="388.70" cy="44.70" r="1.45" fill="#000"/>
<circle cx="388.70" cy="52.00" r="1.45" fill="#000"/>
<circle cx="394.00" cy="47.10" r="1.45" fill="#000"/>
<circle cx="394.00" cy="48.70" r="1.45" fill="#000"/>
<circle cx="394.00" cy="50.40" r="1.45" fill="#000"/>
<circle cx="400.70" cy="51.20" r="1.45" fill="#000"/>
<circle cx="400.70" cy="59.30" r="1.45" fill="#000"/>
<circle cx="400.70" cy="64.20" r="1.45" fill="#000"/>
<circle cx="406.60" cy="102.50" r="1.45" fill="#000"/>
<circle cx="406.60" cy="106.50" r="1.45" fill="#000"/>
<circle cx="406.60" cy="112.20" r="1.45" fill="#000"/>
<line x1="409.60" y1="42.10" x2="420.20" y2="42.10" stroke="#000" stroke-width="1.5"/>
<circle cx="415.00" cy="42.10" r="1.35" fill="#000"/>
<text x="425.10" y="44.50" font-size="6.9" textLength="37.00" lengthAdjust="spacingAndGlyphs" fill="#000" stroke="#000" stroke-width="0.22">SN38 alone</text>
<line x1="409.60" y1="51.80" x2="420.20" y2="51.80" stroke="#8a8a8a" stroke-width="1.5"/>
<rect x="413.65" y="50.45" width="2.70" height="2.70" fill="#8a8a8a"/>
<text x="425.10" y="54.20" font-size="6.9" textLength="79.70" lengthAdjust="spacingAndGlyphs" fill="#000" stroke="#000" stroke-width="0.22">SN38 + 0.5 nmol/L  trabec.</text>
<line x1="306.70" y1="266.00" x2="437.88" y2="266.00" stroke="#000" stroke-width="1.4"/>
<line x1="307.40" y1="266.70" x2="307.40" y2="180.60" stroke="#000" stroke-width="1.4"/>
<line x1="307.20" y1="266.00" x2="307.20" y2="269.50" stroke="#000" stroke-width="1.2"/>
<text x="307.20" y="275.60" font-size="6.4" text-anchor="middle" fill="#000" stroke="#000" stroke-width="0.22">-4</text>
<line x1="328.98" y1="266.00" x2="328.98" y2="269.50" stroke="#000" stroke-width="1.2"/>
<text x="328.98" y="275.60" font-size="6.4" text-anchor="middle" fill="#000" stroke="#000" stroke-width="0.22">-3</text>
<line x1="350.76" y1="266.00" x2="350.76" y2="269.50" stroke="#000" stroke-width="1.2"/>
<text x="350.76" y="275.60" font-size="6.4" text-anchor="middle" fill="#000" stroke="#000" stroke-width="0.22">-2</text>
<line x1="372.54" y1="266.00" x2="372.54" y2="269.50" stroke="#000" stroke-width="1.2"/>
<text x="372.54" y="275.60" font-size="6.4" text-anchor="middle" fill="#000" stroke="#000" stroke-width="0.22">-1</text>
<line x1="394.32" y1="266.00" x2="394.32" y2="269.50" stroke="#000" stroke-width="1.2"/>
<text x="394.32" y="275.60" font-size="6.4" text-anchor="middle" fill="#000" stroke="#000" stroke-width="0.22">0</text>
<line x1="416.10" y1="266.00" x2="416.10" y2="269.50" stroke="#000" stroke-width="1.2"/>
<text x="416.10" y="275.60" font-size="6.4" text-anchor="middle" fill="#000" stroke="#000" stroke-width="0.22">1</text>
<line x1="437.88" y1="266.00" x2="437.88" y2="269.50" stroke="#000" stroke-width="1.2"/>
<text x="437.88" y="275.60" font-size="6.4" text-anchor="middle" fill="#000" stroke="#000" stroke-width="0.22">2</text>
<line x1="307.40" y1="266.00" x2="303.90" y2="266.00" stroke="#000" stroke-width="1.2"/>
<text x="304.20" y="268.20" font-size="6.4" text-anchor="end" fill="#000" stroke="#000" stroke-width="0.22">0</text>
<line x1="307.40" y1="224.88" x2="303.90" y2="224.88" stroke="#000" stroke-width="1.2"/>
<text x="304.20" y="227.07" font-size="6.4" text-anchor="end" fill="#000" stroke="#000" stroke-width="0.22">50</text>
<line x1="307.40" y1="183.75" x2="303.90" y2="183.75" stroke="#000" stroke-width="1.2"/>
<text x="304.20" y="185.95" font-size="6.4" text-anchor="end" fill="#000" stroke="#000" stroke-width="0.22">100</text>
<text x="339.50" y="166.30" font-size="9" textLength="20.00" lengthAdjust="spacingAndGlyphs" fill="#000" stroke="#000" stroke-width="0.22">TC71</text>
<text x="276.40" y="224.50" font-size="8.6" text-anchor="middle" textLength="46.00" lengthAdjust="spacingAndGlyphs" transform="rotate(-90 276.40 224.50)" fill="#000" stroke="#000" stroke-width="0.22">Cell number</text>
<text x="287.00" y="224.00" font-size="8.6" text-anchor="middle" textLength="51.00" lengthAdjust="spacingAndGlyphs" transform="rotate(-90 287.00 224.00)" fill="#000" stroke="#000" stroke-width="0.22">(% of control)</text>
<text x="310.90" y="289.00" font-size="8.7" textLength="95.10" lengthAdjust="spacingAndGlyphs" fill="#000" stroke="#000" stroke-width="0.22">Log conc. SN38 (nmol/L)</text>
<polyline points="318.40,183.80 319.21,183.80 320.03,183.80 320.84,183.80 321.65,183.80 322.47,183.80 323.28,183.80 324.09,183.80 324.91,183.80 325.72,183.80 326.53,183.80 327.35,183.80 328.16,183.80 328.97,183.80 329.79,183.80 330.60,183.80 331.41,183.80 332.23,183.80 333.04,183.80 333.85,183.80 334.67,183.80 335.48,183.80 336.29,183.80 337.11,183.80 337.92,183.80 338.73,183.80 339.55,183.80 340.36,183.80 341.17,183.80 341.99,183.80 342.80,183.80 343.61,183.80 344.43,183.80 345.24,183.80 346.05,183.80 346.87,183.80 347.68,183.80 348.49,183.80 349.31,183.80 350.12,183.80 350.93,183.80 351.75,183.80 352.56,183.80 353.37,183.80 354.19,183.80 355.00,183.80 355.81,183.80 356.63,183.80 357.44,183.80 358.25,183.80 359.07,183.80 359.88,183.80 360.69,183.80 361.51,183.80 362.32,183.80 363.13,183.80 363.95,183.80 364.76,183.80 365.57,183.80 366.39,183.80 367.20,183.80 368.01,183.80 368.83,183.80 369.64,183.80 370.45,183.81 371.27,183.81 372.08,183.81 372.89,183.81 373.71,183.82 374.52,183.83 375.33,183.83 376.15,183.84 376.96,183.86 377.77,183.88 378.59,183.90 379.40,183.94 380.21,183.98 381.03,184.04 381.84,184.12 382.65,184.23 383.47,184.37 384.28,184.55 385.09,184.80 385.91,185.12 386.72,185.55 387.53,186.10 388.35,186.83 389.16,187.78 389.97,189.01 390.79,190.58 391.60,192.58 392.41,195.06 393.23,198.12 394.04,201.80 394.85,206.10 395.67,211.00 396.48,216.38 397.29,222.08 398.11,227.89 398.92,233.57 399.73,238.91 400.55,243.75 401.36,247.99 402.17,251.61 402.99,254.60 403.80,257.04 404.61,258.99 405.43,260.52 406.24,261.72 407.05,262.65 407.87,263.36 408.68,263.90 409.49,264.31 410.31,264.63 411.12,264.87 411.93,265.05 412.75,265.18 413.56,265.29 414.37,265.36 415.19,265.42 416.00,265.47" fill="none" stroke="#000" stroke-width="1.6" stroke-linejoin="round"/>
<polyline points="318.40,184.70 319.21,184.77 320.03,184.84 320.84,184.91 321.65,185.00 322.47,185.09 323.28,185.18 324.09,185.28 324.91,185.39 325.72,185.51 326.53,185.63 327.35,185.77 328.16,185.91 328.97,186.07 329.79,186.23 330.60,186.41 331.41,186.60 332.23,186.80 333.04,187.02 333.85,187.25 334.67,187.50 335.48,187.76 336.29,188.04 337.11,188.34 337.92,188.66 338.73,189.00 339.55,189.37 340.36,189.76 341.17,190.17 341.99,190.61 342.80,191.07 343.61,191.57 344.43,192.09 345.24,192.65 346.05,193.24 346.87,193.86 347.68,194.51 348.49,195.21 349.31,195.94 350.12,196.70 350.93,197.51 351.75,198.36 352.56,199.25 353.37,200.17 354.19,201.14 355.00,202.15 355.81,203.20 356.63,204.30 357.44,205.43 358.25,206.60 359.07,207.81 359.88,209.06 360.69,210.34 361.51,211.65 362.32,213.00 363.13,214.37 363.95,215.77 364.76,217.19 365.57,218.63 366.39,220.09 367.20,221.56 368.01,223.03 368.83,224.51 369.64,225.99 370.45,227.47 371.27,228.94 372.08,230.40 372.89,231.84 373.71,233.27 374.52,234.67 375.33,236.05 376.15,237.41 376.96,238.73 377.77,240.02 378.59,241.28 379.40,242.50 380.21,243.68 381.03,244.82 381.84,245.92 382.65,246.98 383.47,248.00 384.28,248.98 385.09,249.92 385.91,250.82 386.72,251.68 387.53,252.49 388.35,253.27 389.16,254.01 389.97,254.71 390.79,255.38 391.60,256.01 392.41,256.61 393.23,257.17 394.04,257.70 394.85,258.20 395.67,258.68 396.48,259.12 397.29,259.54 398.11,259.93 398.92,260.30 399.73,260.65 400.55,260.98 401.36,261.28 402.17,261.57 402.99,261.84 403.80,262.09 404.61,262.33 405.43,262.55 406.24,262.75 407.05,262.94 407.87,263.12 408.68,263.29 409.49,263.45 410.31,263.60 411.12,263.73 411.93,263.86 412.75,263.98 413.56,264.09 414.37,264.19 415.19,264.29 416.00,264.38" fill="none" stroke="#7f7f7f" stroke-width="1.3" stroke-linejoin="round"/>
<rect x="316.95" y="181.65" width="2.90" height="2.90" fill="#8c8c8c"/>
<rect x="316.95" y="190.65" width="2.90" height="2.90" fill="#8c8c8c"/>
<rect x="316.95" y="192.75" width="2.90" height="2.90" fill="#8c8c8c"/>
<rect x="338.25" y="190.65" width="2.90" height="2.90" fill="#8c8c8c"/>
<rect x="338.25" y="192.25" width="2.90" height="2.90" fill="#8c8c8c"/>
<rect x="338.25" y="197.95" width="2.90" height="2.90" fill="#8c8c8c"/>
<rect x="359.75" y="206.95" width="2.90" height="2.90" fill="#8c8c8c"/>
<rect x="359.75" y="208.55" width="2.90" height="2.90" fill="#8c8c8c"/>
<rect x="381.15" y="243.55" width="2.90" height="2.90" fill="#8c8c8c"/>
<rect x="381.15" y="250.05" width="2.90" height="2.90" fill="#8c8c8c"/>
<rect x="381.15" y="252.55" width="2.90" height="2.90" fill="#8c8c8c"/>
<rect x="381.15" y="255.75" width="2.90" height="2.90" fill="#8c8c8c"/>
<rect x="387.85" y="247.65" width="2.90" height="2.90" fill="#8c8c8c"/>
<rect x="387.85" y="250.05" width="2.90" height="2.90" fill="#8c8c8c"/>
<rect x="387.85" y="253.35" width="2.90" height="2.90" fill="#8c8c8c"/>
<rect x="387.85" y="254.95" width="2.90" height="2.90" fill="#8c8c8c"/>
<rect x="394.85" y="250.05" width="2.90" height="2.90" fill="#8c8c8c"/>
<rect x="394.85" y="256.55" width="2.90" height="2.90" fill="#8c8c8c"/>
<rect x="401.55" y="258.25" width="2.90" height="2.90" fill="#8c8c8c"/>
<rect x="408.15" y="261.55" width="2.90" height="2.90" fill="#8c8c8c"/>
<rect x="414.55" y="263.05" width="2.90" height="2.90" fill="#8c8c8c"/>
<circle cx="318.40" cy="187.70" r="1.45" fill="#000"/>
<circle cx="339.70" cy="184.00" r="1.45" fill="#000"/>
<circle cx="339.70" cy="185.60" r="1.45" fill="#000"/>
<circle cx="361.20" cy="189.70" r="1.45" fill="#000"/>
<circle cx="361.20" cy="191.30" r="1.45" fill="#000"/>
<circle cx="382.60" cy="188.80" r="1.45" fill="#000"/>
<circle cx="382.60" cy="191.30" r="1.45" fill="#000"/>
<circle cx="382.60" cy="192.60" r="1.45" fill="#000"/>
<circle cx="389.30" cy="185.60" r="1.45" fill="#000"/>
<circle cx="389.30" cy="190.50" r="1.45" fill="#000"/>
<circle cx="389.30" cy="194.50" r="1.45" fill="#000"/>
<circle cx="389.30" cy="195.80" r="1.45" fill="#000"/>
<circle cx="396.30" cy="214.10" r="1.45" fill="#000"/>
<circle cx="396.30" cy="219.00" r="1.45" fill="#000"/>
<circle cx="396.30" cy="225.50" r="1.45" fill="#000"/>
<circle cx="403.00" cy="248.30" r="1.45" fill="#000"/>
<line x1="408.20" y1="189.70" x2="419.40" y2="189.70" stroke="#000" stroke-width="1.5"/>
<circle cx="414.00" cy="189.70" r="1.35" fill="#000"/>
<text x="423.60" y="192.10" font-size="6.9" textLength="37.40" lengthAdjust="spacingAndGlyphs" fill="#000" stroke="#000" stroke-width="0.22">SN38 alone</text>
<line x1="408.20" y1="200.30" x2="419.40" y2="200.30" stroke="#8a8a8a" stroke-width="1.5"/>
<rect x="412.65" y="198.95" width="2.70" height="2.70" fill="#8a8a8a"/>
<text x="423.6" y="202.70" font-size="6.9" fill="#000" stroke="#000" stroke-width="0.22" xml:space="preserve">SN38 + 0.5 <tspan font-size="6.4">nmol/L.</tspan> trabec.</text>
<line x1="168.70" y1="395.00" x2="297.65" y2="395.00" stroke="#000" stroke-width="1.4"/>
<line x1="169.40" y1="395.70" x2="169.40" y2="309.50" stroke="#000" stroke-width="1.4"/>
<line x1="169.25" y1="395.00" x2="169.25" y2="398.50" stroke="#000" stroke-width="1.2"/>
<text x="169.25" y="404.30" font-size="6.4" text-anchor="middle" fill="#000" stroke="#000" stroke-width="0.22">-2</text>
<line x1="212.05" y1="395.00" x2="212.05" y2="398.50" stroke="#000" stroke-width="1.2"/>
<text x="212.05" y="404.30" font-size="6.4" text-anchor="middle" fill="#000" stroke="#000" stroke-width="0.22">0</text>
<line x1="254.85" y1="395.00" x2="254.85" y2="398.50" stroke="#000" stroke-width="1.2"/>
<text x="254.85" y="404.30" font-size="6.4" text-anchor="middle" fill="#000" stroke="#000" stroke-width="0.22">2</text>
<line x1="297.65" y1="395.00" x2="297.65" y2="398.50" stroke="#000" stroke-width="1.2"/>
<text x="297.65" y="404.30" font-size="6.4" text-anchor="middle" fill="#000" stroke="#000" stroke-width="0.22">4</text>
<line x1="169.40" y1="395.00" x2="165.90" y2="395.00" stroke="#000" stroke-width="1.2"/>
<text x="165.60" y="397.20" font-size="6.4" text-anchor="end" fill="#000" stroke="#000" stroke-width="0.22">0</text>
<line x1="169.40" y1="377.90" x2="165.90" y2="377.90" stroke="#000" stroke-width="1.2"/>
<text x="165.60" y="380.10" font-size="6.4" text-anchor="end" fill="#000" stroke="#000" stroke-width="0.22">20</text>
<line x1="169.40" y1="360.80" x2="165.90" y2="360.80" stroke="#000" stroke-width="1.2"/>
<text x="165.60" y="363.00" font-size="6.4" text-anchor="end" fill="#000" stroke="#000" stroke-width="0.22">40</text>
<line x1="169.40" y1="343.70" x2="165.90" y2="343.70" stroke="#000" stroke-width="1.2"/>
<text x="165.60" y="345.90" font-size="6.4" text-anchor="end" fill="#000" stroke="#000" stroke-width="0.22">60</text>
<line x1="169.40" y1="326.60" x2="165.90" y2="326.60" stroke="#000" stroke-width="1.2"/>
<text x="165.60" y="328.80" font-size="6.4" text-anchor="end" fill="#000" stroke="#000" stroke-width="0.22">80</text>
<line x1="169.40" y1="309.50" x2="165.90" y2="309.50" stroke="#000" stroke-width="1.2"/>
<text x="165.60" y="311.70" font-size="6.4" text-anchor="end" fill="#000" stroke="#000" stroke-width="0.22">100</text>
<text x="102.80" y="315.90" font-size="12.2" font-weight="bold" fill="#000" stroke="#000" stroke-width="0.45">C</text>
<text x="138.70" y="358.90" font-size="8.6" text-anchor="middle" textLength="47.80" lengthAdjust="spacingAndGlyphs" transform="rotate(-90 138.70 358.90)" fill="#000" stroke="#000" stroke-width="0.22">Cell number</text>
<text x="148.50" y="358.00" font-size="8.6" text-anchor="middle" textLength="52.00" lengthAdjust="spacingAndGlyphs" transform="rotate(-90 148.50 358.00)" fill="#000" stroke="#000" stroke-width="0.22">(% of control)</text>
<text x="193.75" y="419.30" font-size="8.6" textLength="92.50" lengthAdjust="spacingAndGlyphs" fill="#000" stroke="#000" stroke-width="0.22">Log conc. doxo (nmol/L)</text>
<polyline points="172.70,309.40 173.69,309.40 174.68,309.40 175.67,309.40 176.66,309.40 177.65,309.40 178.64,309.40 179.63,309.40 180.62,309.40 181.61,309.40 182.60,309.40 183.59,309.40 184.58,309.40 185.57,309.40 186.56,309.40 187.55,309.40 188.54,309.40 189.53,309.40 190.52,309.40 191.51,309.40 192.50,309.40 193.49,309.40 194.48,309.40 195.47,309.40 196.46,309.40 197.45,309.41 198.44,309.41 199.43,309.41 200.42,309.41 201.41,309.41 202.40,309.41 203.39,309.42 204.38,309.42 205.37,309.43 206.36,309.43 207.35,309.44 208.34,309.44 209.33,309.45 210.32,309.47 211.31,309.48 212.30,309.50 213.29,309.52 214.28,309.54 215.27,309.57 216.26,309.60 217.25,309.65 218.24,309.70 219.23,309.76 220.22,309.84 221.21,309.93 222.20,310.04 223.19,310.17 224.18,310.33 225.17,310.52 226.16,310.76 227.15,311.04 228.14,311.37 229.13,311.77 230.12,312.25 231.11,312.83 232.10,313.51 233.09,314.32 234.08,315.28 235.07,316.42 236.06,317.74 237.05,319.29 238.04,321.08 239.03,323.13 240.02,325.47 241.01,328.10 242.00,331.02 242.99,334.23 243.98,337.71 244.97,341.41 245.96,345.30 246.95,349.29 247.94,353.34 248.93,357.36 249.92,361.29 250.91,365.05 251.90,368.60 252.89,371.90 253.88,374.92 254.87,377.64 255.86,380.07 256.85,382.21 257.84,384.08 258.83,385.70 259.82,387.09 260.81,388.28 261.80,389.29 262.79,390.15 263.78,390.87 264.77,391.48 265.76,391.99 266.75,392.41 267.74,392.77 268.73,393.06 269.72,393.31 270.71,393.51 271.70,393.68 272.69,393.82 273.68,393.94 274.67,394.04 275.66,394.12 276.65,394.18 277.64,394.24 278.63,394.28 279.62,394.32 280.61,394.35 281.60,394.38 282.59,394.40 283.58,394.42 284.57,394.43 285.56,394.44 286.55,394.45 287.54,394.46 288.53,394.47 289.52,394.47 290.51,394.48 291.50,394.48" fill="none" stroke="#000" stroke-width="1.6" stroke-linejoin="round"/>
<polyline points="172.70,309.43 173.69,309.43 174.68,309.44 175.67,309.44 176.66,309.44 177.65,309.45 178.64,309.45 179.63,309.46 180.62,309.47 181.61,309.48 182.60,309.48 183.59,309.49 184.58,309.51 185.57,309.52 186.56,309.53 187.55,309.55 188.54,309.56 189.53,309.58 190.52,309.60 191.51,309.63 192.50,309.65 193.49,309.68 194.48,309.72 195.47,309.75 196.46,309.79 197.45,309.84 198.44,309.89 199.43,309.94 200.42,310.01 201.41,310.08 202.40,310.15 203.39,310.24 204.38,310.34 205.37,310.44 206.36,310.56 207.35,310.70 208.34,310.84 209.33,311.01 210.32,311.19 211.31,311.39 212.30,311.62 213.29,311.87 214.28,312.14 215.27,312.45 216.26,312.79 217.25,313.16 218.24,313.58 219.23,314.04 220.22,314.54 221.21,315.10 222.20,315.71 223.19,316.38 224.18,317.11 225.17,317.92 226.16,318.80 227.15,319.75 228.14,320.79 229.13,321.92 230.12,323.14 231.11,324.45 232.10,325.85 233.09,327.36 234.08,328.96 235.07,330.66 236.06,332.45 237.05,334.34 238.04,336.32 239.03,338.38 240.02,340.51 241.01,342.70 242.00,344.95 242.99,347.23 243.98,349.55 244.97,351.88 245.96,354.21 246.95,356.53 247.94,358.82 248.93,361.07 249.92,363.26 250.91,365.40 251.90,367.46 252.89,369.44 253.88,371.33 254.87,373.14 255.86,374.84 256.85,376.45 257.84,377.96 258.83,379.37 259.82,380.69 260.81,381.91 261.80,383.04 262.79,384.09 263.78,385.05 264.77,385.93 265.76,386.74 266.75,387.48 267.74,388.15 268.73,388.77 269.72,389.33 270.71,389.83 271.70,390.29 272.69,390.71 273.68,391.09 274.67,391.43 275.66,391.74 276.65,392.02 277.64,392.27 278.63,392.49 279.62,392.70 280.61,392.88 281.60,393.05 282.59,393.20 283.58,393.33 284.57,393.45 285.56,393.56 286.55,393.65 287.54,393.74 288.53,393.82 289.52,393.89 290.51,393.95 291.50,394.01" fill="none" stroke="#000" stroke-width="1.6" stroke-linejoin="round"/>
<circle cx="172.70" cy="315.10" r="1.50" fill="#000"/>
<circle cx="205.30" cy="310.50" r="1.50" fill="#000"/>
<circle cx="215.60" cy="309.80" r="1.50" fill="#000"/>
<circle cx="236.90" cy="317.30" r="1.50" fill="#000"/>
<circle cx="257.20" cy="379.80" r="1.50" fill="#000"/>
<circle cx="258.50" cy="385.20" r="1.50" fill="#000"/>
<circle cx="264.90" cy="390.00" r="1.50" fill="#000"/>
<circle cx="271.70" cy="393.00" r="1.50" fill="#000"/>
<circle cx="278.00" cy="393.80" r="1.50" fill="#000"/>
<rect x="171.35" y="307.55" width="2.70" height="2.70" fill="#000"/>
<rect x="203.95" y="310.65" width="2.70" height="2.70" fill="#000"/>
<rect x="214.25" y="309.75" width="2.70" height="2.70" fill="#000"/>
<rect x="235.55" y="333.75" width="2.70" height="2.70" fill="#000"/>
<rect x="257.15" y="379.25" width="2.70" height="2.70" fill="#000"/>
<rect x="263.55" y="384.45" width="2.70" height="2.70" fill="#000"/>
<rect x="270.35" y="387.85" width="2.70" height="2.70" fill="#000"/>
<rect x="276.35" y="390.95" width="2.70" height="2.70" fill="#000"/>
<rect x="283.25" y="392.25" width="2.70" height="2.70" fill="#000"/>
<rect x="290.15" y="392.65" width="2.70" height="2.70" fill="#000"/>
<line x1="252.50" y1="318.00" x2="263.70" y2="318.00" stroke="#000" stroke-width="1.5"/>
<circle cx="258.00" cy="318.00" r="1.50" fill="#000"/>
<text x="267.00" y="320.40" font-size="6.9" textLength="39.20" lengthAdjust="spacingAndGlyphs" fill="#000" stroke="#000" stroke-width="0.22">DOXO alone</text>
<line x1="252.50" y1="328.00" x2="263.70" y2="328.00" stroke="#000" stroke-width="1.5"/>
<rect x="256.60" y="326.60" width="2.80" height="2.80" fill="#000"/>
<text x="267.00" y="330.40" font-size="6.9" textLength="46.70" lengthAdjust="spacingAndGlyphs" fill="#000" stroke="#000" stroke-width="0.22">Doxo + trabec.</text>
<line x1="170.00" y1="543.40" x2="323.98" y2="543.40" stroke="#000" stroke-width="1.4"/>
<line x1="170.70" y1="544.10" x2="170.70" y2="441.20" stroke="#000" stroke-width="1.4"/>
<line x1="170.50" y1="543.40" x2="170.50" y2="546.90" stroke="#000" stroke-width="1.2"/>
<text x="170.50" y="554.30" font-size="6.8" text-anchor="middle" fill="#000" stroke="#000" stroke-width="0.22">-2</text>
<line x1="221.66" y1="543.40" x2="221.66" y2="546.90" stroke="#000" stroke-width="1.2"/>
<text x="221.66" y="554.30" font-size="6.8" text-anchor="middle" fill="#000" stroke="#000" stroke-width="0.22">0</text>
<line x1="272.82" y1="543.40" x2="272.82" y2="546.90" stroke="#000" stroke-width="1.2"/>
<text x="272.82" y="554.30" font-size="6.8" text-anchor="middle" fill="#000" stroke="#000" stroke-width="0.22">2</text>
<line x1="323.98" y1="543.40" x2="323.98" y2="546.90" stroke="#000" stroke-width="1.2"/>
<text x="323.98" y="554.30" font-size="6.8" text-anchor="middle" fill="#000" stroke="#000" stroke-width="0.22">4</text>
<line x1="170.70" y1="543.40" x2="167.20" y2="543.40" stroke="#000" stroke-width="1.2"/>
<text x="166.20" y="545.60" font-size="6.8" text-anchor="end" fill="#000" stroke="#000" stroke-width="0.22">0</text>
<line x1="170.70" y1="494.50" x2="167.20" y2="494.50" stroke="#000" stroke-width="1.2"/>
<text x="166.20" y="496.70" font-size="6.8" text-anchor="end" fill="#000" stroke="#000" stroke-width="0.22">50</text>
<line x1="170.70" y1="445.60" x2="167.20" y2="445.60" stroke="#000" stroke-width="1.2"/>
<text x="166.20" y="447.80" font-size="6.8" text-anchor="end" fill="#000" stroke="#000" stroke-width="0.22">100</text>
<text x="103.00" y="446.30" font-size="12.2" font-weight="bold" fill="#000" stroke="#000" stroke-width="0.45">D</text>
<text x="137.90" y="498.90" font-size="8.6" text-anchor="middle" textLength="46.50" lengthAdjust="spacingAndGlyphs" transform="rotate(-90 137.90 498.90)" fill="#000" stroke="#000" stroke-width="0.22">Cell number</text>
<text x="148.20" y="498.00" font-size="8.6" text-anchor="middle" textLength="51.50" lengthAdjust="spacingAndGlyphs" transform="rotate(-90 148.20 498.00)" fill="#000" stroke="#000" stroke-width="0.22">(% of control)</text>
<text x="193.60" y="568.00" font-size="8.7" textLength="96.20" lengthAdjust="spacingAndGlyphs" fill="#000" stroke="#000" stroke-width="0.22">Log conc. SN38 (nmol/L)</text>
<polyline points="170.50,446.81 171.72,446.89 172.93,446.98 174.15,447.08 175.37,447.18 176.58,447.30 177.80,447.42 179.02,447.56 180.23,447.70 181.45,447.86 182.67,448.04 183.88,448.23 185.10,448.43 186.32,448.65 187.53,448.89 188.75,449.16 189.97,449.44 191.18,449.75 192.40,450.08 193.62,450.44 194.83,450.83 196.05,451.25 197.27,451.70 198.48,452.19 199.70,452.72 200.92,453.29 202.13,453.90 203.35,454.56 204.57,455.27 205.78,456.03 207.00,456.84 208.22,457.71 209.43,458.64 210.65,459.63 211.87,460.68 213.08,461.80 214.30,462.98 215.52,464.23 216.73,465.55 217.95,466.95 219.17,468.41 220.38,469.94 221.60,471.54 222.82,473.21 224.03,474.94 225.25,476.73 226.47,478.58 227.68,480.49 228.90,482.44 230.12,484.44 231.33,486.47 232.55,488.53 233.77,490.62 234.98,492.72 236.20,494.82 237.42,496.93 238.63,499.03 239.85,501.11 241.07,503.17 242.28,505.19 243.50,507.18 244.72,509.13 245.93,511.02 247.15,512.87 248.37,514.65 249.58,516.37 250.80,518.03 252.02,519.62 253.23,521.14 254.45,522.59 255.67,523.97 256.88,525.28 258.10,526.52 259.32,527.69 260.53,528.80 261.75,529.84 262.97,530.82 264.18,531.74 265.40,532.60 266.62,533.40 267.83,534.15 269.05,534.85 270.27,535.50 271.48,536.10 272.70,536.67 273.92,537.19 275.13,537.67 276.35,538.12 277.57,538.54 278.78,538.92 280.00,539.28 281.22,539.61 282.43,539.91 283.65,540.19 284.87,540.45 286.08,540.68 287.30,540.90 288.52,541.11 289.73,541.29 290.95,541.46 292.17,541.62 293.38,541.77 294.60,541.90 295.82,542.02 297.03,542.13 298.25,542.24 299.47,542.33 300.68,542.42 301.90,542.50 303.12,542.57 304.33,542.64 305.55,542.70 306.77,542.76 307.98,542.81 309.20,542.86 310.42,542.91 311.63,542.95 312.85,542.98 314.07,543.02 315.28,543.05 316.50,543.08" fill="none" stroke="#7a7a7a" stroke-width="1.5" stroke-linejoin="round"/>
<polyline points="170.50,445.91 171.72,445.92 172.93,445.92 174.15,445.92 175.37,445.92 176.58,445.93 177.80,445.93 179.02,445.94 180.23,445.94 181.45,445.95 182.67,445.95 183.88,445.96 185.10,445.97 186.32,445.97 187.53,445.98 188.75,446.00 189.97,446.01 191.18,446.02 192.40,446.04 193.62,446.06 194.83,446.08 196.05,446.10 197.27,446.13 198.48,446.16 199.70,446.19 200.92,446.23 202.13,446.27 203.35,446.32 204.57,446.38 205.78,446.44 207.00,446.51 208.22,446.59 209.43,446.69 210.65,446.79 211.87,446.91 213.08,447.04 214.30,447.19 215.52,447.35 216.73,447.54 217.95,447.76 219.17,448.00 220.38,448.27 221.60,448.57 222.82,448.92 224.03,449.30 225.25,449.74 226.47,450.22 227.68,450.77 228.90,451.37 230.12,452.05 231.33,452.81 232.55,453.65 233.77,454.59 234.98,455.63 236.20,456.77 237.42,458.03 238.63,459.41 239.85,460.93 241.07,462.58 242.28,464.37 243.50,466.31 244.72,468.38 245.93,470.61 247.15,472.97 248.37,475.47 249.58,478.10 250.80,480.83 252.02,483.67 253.23,486.58 254.45,489.56 255.67,492.57 256.88,495.61 258.10,498.63 259.32,501.62 260.53,504.56 261.75,507.43 262.97,510.20 264.18,512.87 265.40,515.42 266.62,517.83 267.83,520.11 269.05,522.24 270.27,524.23 271.48,526.07 272.70,527.78 273.92,529.34 275.13,530.77 276.35,532.08 277.57,533.26 278.78,534.34 280.00,535.31 281.22,536.19 282.43,536.98 283.65,537.68 284.87,538.32 286.08,538.88 287.30,539.39 288.52,539.84 289.73,540.25 290.95,540.60 292.17,540.92 293.38,541.21 294.60,541.46 295.82,541.68 297.03,541.88 298.25,542.05 299.47,542.21 300.68,542.35 301.90,542.47 303.12,542.58 304.33,542.67 305.55,542.76 306.77,542.83 307.98,542.90 309.20,542.96 310.42,543.01 311.63,543.05 312.85,543.09 314.07,543.13 315.28,543.16 316.50,543.19" fill="none" stroke="#9a9a9a" stroke-width="1.5" stroke-linejoin="round" stroke-dasharray="4.2,2.4"/>
<polyline points="170.50,446.94 171.72,447.01 172.93,447.09 174.15,447.17 175.37,447.26 176.58,447.36 177.80,447.46 179.02,447.57 180.23,447.69 181.45,447.81 182.67,447.95 183.88,448.09 185.10,448.25 186.32,448.41 187.53,448.58 188.75,448.77 189.97,448.97 191.18,449.18 192.40,449.41 193.62,449.65 194.83,449.91 196.05,450.18 197.27,450.48 198.48,450.79 199.70,451.12 200.92,451.47 202.13,451.85 203.35,452.24 204.57,452.67 205.78,453.12 207.00,453.59 208.22,454.10 209.43,454.63 210.65,455.20 211.87,455.80 213.08,456.43 214.30,457.10 215.52,457.80 216.73,458.55 217.95,459.33 219.17,460.15 220.38,461.01 221.60,461.92 222.82,462.86 224.03,463.86 225.25,464.89 226.47,465.97 227.68,467.10 228.90,468.27 230.12,469.48 231.33,470.74 232.55,472.05 233.77,473.39 234.98,474.78 236.20,476.20 237.42,477.67 238.63,479.17 239.85,480.70 241.07,482.26 242.28,483.86 243.50,485.47 244.72,487.11 245.93,488.76 247.15,490.43 248.37,492.11 249.58,493.80 250.80,495.48 252.02,497.17 253.23,498.85 254.45,500.51 255.67,502.17 256.88,503.81 258.10,505.42 259.32,507.01 260.53,508.58 261.75,510.11 262.97,511.61 264.18,513.08 265.40,514.50 266.62,515.89 267.83,517.24 269.05,518.54 270.27,519.80 271.48,521.02 272.70,522.19 273.92,523.31 275.13,524.39 276.35,525.43 277.57,526.42 278.78,527.37 280.00,528.28 281.22,529.14 282.43,529.96 283.65,530.74 284.87,531.49 286.08,532.19 287.30,532.86 288.52,533.49 289.73,534.09 290.95,534.66 292.17,535.19 293.38,535.70 294.60,536.18 295.82,536.63 297.03,537.05 298.25,537.45 299.47,537.82 300.68,538.18 301.90,538.51 303.12,538.82 304.33,539.11 305.55,539.39 306.77,539.65 307.98,539.89 309.20,540.11 310.42,540.33 311.63,540.53 312.85,540.71 314.07,540.89 315.28,541.05 316.50,541.21" fill="none" stroke="#000" stroke-width="1.7" stroke-linejoin="round" stroke-dasharray="4.5,2.5"/>
<polyline points="170.50,445.91 171.72,445.91 172.93,445.91 174.15,445.91 175.37,445.91 176.58,445.91 177.80,445.91 179.02,445.91 180.23,445.92 181.45,445.92 182.67,445.92 183.88,445.92 185.10,445.92 186.32,445.93 187.53,445.93 188.75,445.93 189.97,445.94 191.18,445.94 192.40,445.95 193.62,445.95 194.83,445.96 196.05,445.96 197.27,445.97 198.48,445.98 199.70,445.99 200.92,446.00 202.13,446.01 203.35,446.02 204.57,446.04 205.78,446.05 207.00,446.07 208.22,446.09 209.43,446.11 210.65,446.14 211.87,446.16 213.08,446.19 214.30,446.23 215.52,446.27 216.73,446.31 217.95,446.35 219.17,446.41 220.38,446.46 221.60,446.53 222.82,446.60 224.03,446.68 225.25,446.77 226.47,446.87 227.68,446.97 228.90,447.10 230.12,447.23 231.33,447.38 232.55,447.55 233.77,447.74 234.98,447.94 236.20,448.17 237.42,448.43 238.63,448.71 239.85,449.02 241.07,449.37 242.28,449.75 243.50,450.17 244.72,450.64 245.93,451.15 247.15,451.72 248.37,452.34 249.58,453.03 250.80,453.78 252.02,454.61 253.23,455.51 254.45,456.49 255.67,457.57 256.88,458.73 258.10,459.99 259.32,461.35 260.53,462.82 261.75,464.39 262.97,466.08 264.18,467.87 265.40,469.78 266.62,471.79 267.83,473.91 269.05,476.13 270.27,478.44 271.48,480.84 272.70,483.32 273.92,485.85 275.13,488.44 276.35,491.06 277.57,493.71 278.78,496.36 280.00,499.00 281.22,501.61 282.43,504.18 283.65,506.70 284.87,509.16 286.08,511.53 287.30,513.82 288.52,516.01 289.73,518.10 290.95,520.08 292.17,521.96 293.38,523.72 294.60,525.37 295.82,526.92 297.03,528.35 298.25,529.68 299.47,530.92 300.68,532.05 301.90,533.10 303.12,534.06 304.33,534.94 305.55,535.74 306.77,536.47 307.98,537.14 309.20,537.75 310.42,538.30 311.63,538.80 312.85,539.25 314.07,539.67 315.28,540.04 316.50,540.37" fill="none" stroke="#000" stroke-width="1.6" stroke-linejoin="round"/>
<rect x="217.15" y="447.95" width="2.50" height="2.50" fill="#999"/>
<rect x="217.15" y="450.25" width="2.50" height="2.50" fill="#999"/>
<rect x="217.15" y="452.55" width="2.50" height="2.50" fill="#999"/>
<rect x="242.75" y="460.05" width="2.50" height="2.50" fill="#999"/>
<rect x="242.75" y="466.45" width="2.50" height="2.50" fill="#999"/>
<rect x="250.55" y="484.85" width="2.50" height="2.50" fill="#999"/>
<rect x="268.55" y="519.35" width="2.50" height="2.50" fill="#999"/>
<rect x="268.55" y="526.75" width="2.50" height="2.50" fill="#999"/>
<rect x="276.05" y="528.55" width="2.50" height="2.50" fill="#999"/>
<rect x="276.05" y="532.55" width="2.50" height="2.50" fill="#999"/>
<rect x="284.15" y="535.45" width="2.50" height="2.50" fill="#999"/>
<rect x="291.65" y="537.75" width="2.50" height="2.50" fill="#999"/>
<rect x="299.75" y="539.25" width="2.50" height="2.50" fill="#999"/>
<polygon points="191.10,452.02 193.90,452.02 192.50,454.40" fill="#222"/>
<polygon points="198.80,459.22 201.60,459.22 200.20,461.60" fill="#222"/>
<polygon points="217.00,465.52 219.80,465.52 218.40,467.90" fill="#222"/>
<polygon points="217.00,470.12 219.80,470.12 218.40,472.50" fill="#222"/>
<polygon points="224.60,481.12 227.40,481.12 226.00,483.50" fill="#222"/>
<polygon points="242.40,500.02 245.20,500.02 243.80,502.40" fill="#222"/>
<polygon points="250.50,499.42 253.30,499.42 251.90,501.80" fill="#222"/>
<polygon points="268.40,538.02 271.20,538.02 269.80,540.40" fill="#222"/>
<polygon points="275.90,538.02 278.70,538.02 277.30,540.40" fill="#222"/>
<polygon points="284.00,538.62 286.80,538.62 285.40,541.00" fill="#222"/>
<polygon points="268.40,531.72 271.20,531.72 269.80,534.10" fill="#222"/>
<polygon points="191.10,447.98 193.90,447.98 192.50,445.60" fill="#000"/>
<polygon points="191.10,450.98 193.90,450.98 192.50,448.60" fill="#000"/>
<polygon points="198.80,451.98 201.60,451.98 200.20,449.60" fill="#000"/>
<polygon points="224.60,465.18 227.40,465.18 226.00,462.80" fill="#000"/>
<polygon points="242.60,485.38 245.40,485.38 244.00,483.00" fill="#000"/>
<polygon points="250.40,491.98 253.20,491.98 251.80,489.60" fill="#000"/>
<polygon points="268.40,512.28 271.20,512.28 269.80,509.90" fill="#000"/>
<polygon points="275.90,519.78 278.70,519.78 277.30,517.40" fill="#000"/>
<polygon points="284.00,524.48 286.80,524.48 285.40,522.10" fill="#000"/>
<polygon points="291.50,528.98 294.30,528.98 292.90,526.60" fill="#000"/>
<polygon points="299.60,533.98 302.40,533.98 301.00,531.60" fill="#000"/>
<circle cx="174.60" cy="454.80" r="1.35" fill="#000"/>
<circle cx="192.50" cy="462.50" r="1.35" fill="#000"/>
<circle cx="218.40" cy="445.20" r="1.35" fill="#000"/>
<circle cx="226.00" cy="445.20" r="1.35" fill="#000"/>
<circle cx="244.00" cy="445.50" r="1.35" fill="#000"/>
<circle cx="244.00" cy="457.10" r="1.35" fill="#000"/>
<circle cx="251.80" cy="456.70" r="1.35" fill="#000"/>
<circle cx="269.40" cy="475.80" r="1.35" fill="#000"/>
<circle cx="269.40" cy="479.80" r="1.35" fill="#000"/>
<circle cx="277.50" cy="490.70" r="1.35" fill="#000"/>
<circle cx="277.30" cy="502.70" r="1.35" fill="#000"/>
<circle cx="285.40" cy="509.60" r="1.35" fill="#000"/>
<circle cx="285.40" cy="514.80" r="1.35" fill="#000"/>
<circle cx="292.90" cy="520.00" r="1.35" fill="#000"/>
<circle cx="301.00" cy="531.00" r="1.35" fill="#000"/>
<circle cx="301.00" cy="536.10" r="1.35" fill="#000"/>
<circle cx="308.40" cy="539.00" r="1.35" fill="#000"/>
<circle cx="277.30" cy="524.60" r="1.35" fill="#000"/>
<circle cx="285.40" cy="529.20" r="1.35" fill="#000"/>
<line x1="293.50" y1="447.90" x2="307.30" y2="447.90" stroke="#000" stroke-width="1.5"/>
<circle cx="300.40" cy="447.90" r="1.40" fill="#000"/>
<text x="311.60" y="450.70" font-size="8.3" textLength="53.00" lengthAdjust="spacingAndGlyphs" fill="#000" stroke="#000" stroke-width="0.22">HT-GFP SN38</text>
<line x1="293.50" y1="459.80" x2="307.30" y2="459.80" stroke="#999" stroke-width="1.5"/>
<rect x="299.10" y="458.50" width="2.60" height="2.60" fill="#999"/>
<text x="311.60" y="462.60" font-size="8.3" textLength="89.40" lengthAdjust="spacingAndGlyphs" fill="#000" stroke="#000" stroke-width="0.22">HT-GFP SN38 + trabec.</text>
<line x1="293.50" y1="471.70" x2="307.30" y2="471.70" stroke="#000" stroke-width="1.5"/>
<polygon points="299.00,471.02 301.80,471.02 300.40,473.40" fill="#000"/>
<text x="311.60" y="474.50" font-size="8.3" textLength="72.00" lengthAdjust="spacingAndGlyphs" fill="#000" stroke="#000" stroke-width="0.22">HT-EWSFLI1 SN38</text>
<line x1="293.50" y1="483.60" x2="307.30" y2="483.60" stroke="#9a9a9a" stroke-width="1.5"/>
<circle cx="300.40" cy="483.60" r="1.20" fill="#111"/>
<text x="311.60" y="486.40" font-size="8.3" textLength="107.60" lengthAdjust="spacingAndGlyphs" fill="#000" stroke="#000" stroke-width="0.22">HT-EWSFLI1 SN38 + trabec.</text>
<rect x="0.5" y="0.5" width="519" height="581.5" fill="none" stroke="#555" stroke-width="1"/>
<line x1="0" y1="582.5" x2="520" y2="582.5" stroke="#555" stroke-width="1"/>
</svg>
</body></html>
